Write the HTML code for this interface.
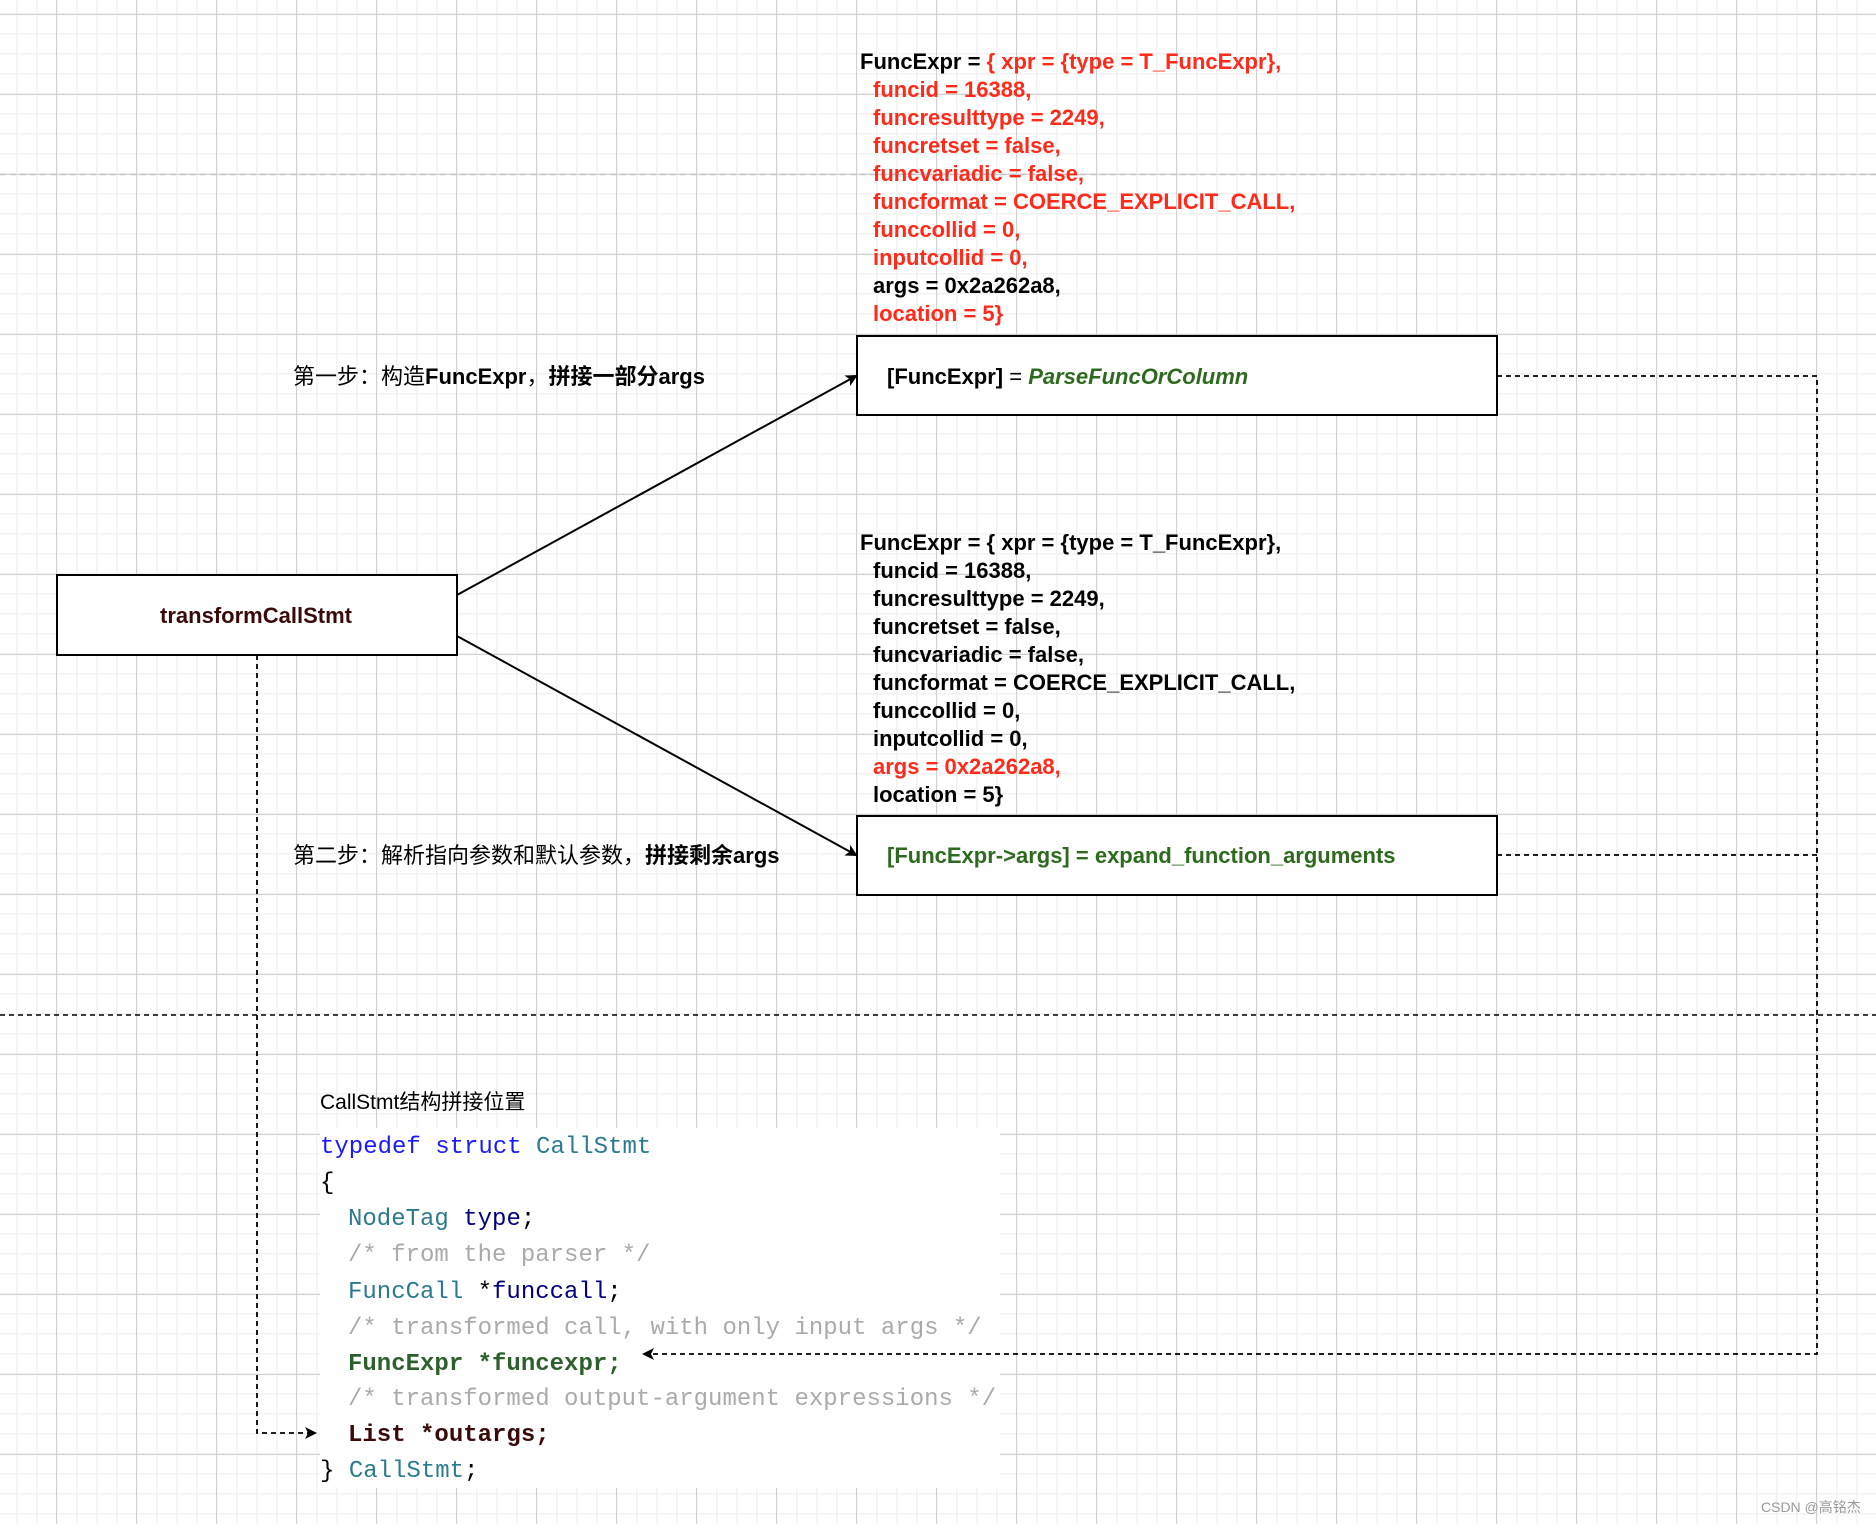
<!DOCTYPE html>
<html><head><meta charset="utf-8"><style>
html,body{margin:0;padding:0}
body{width:1876px;height:1524px;position:relative;overflow:hidden;background-color:#fff;
background-image:
linear-gradient(to right,#d0d0d0 0,#d0d0d0 1.2px,transparent 1.2px),
linear-gradient(to bottom,#d0d0d0 0,#d0d0d0 1.2px,transparent 1.2px),
linear-gradient(to right,#f2f2f2 0,#f2f2f2 1.4px,transparent 1.4px),
linear-gradient(to bottom,#f2f2f2 0,#f2f2f2 1.4px,transparent 1.4px);
background-size:80px 80px,80px 80px,20px 20px,20px 20px;
background-position:56px 0,0 14px,16px 0,0 13px;
font-family:"Liberation Sans","Noto Sans CJK SC",sans-serif}
svg{position:absolute;left:0;top:0}
.t{font-family:"Liberation Sans","Noto Sans CJK SC",sans-serif;font-weight:bold;font-size:22px}
.r{fill:#ff2a1a}
.m{font-family:"Liberation Mono","DejaVu Sans Mono",monospace;font-size:24px}
</style></head><body>
<svg width="1876" height="1524" viewBox="0 0 1876 1524">
<defs>
<marker id="a" markerWidth="12" markerHeight="12" refX="10" refY="6" orient="auto" markerUnits="userSpaceOnUse">
<path d="M0,0 L12,6 L0,12 L3,6 Z" fill="#000"/></marker>
</defs>
<line x1="0" y1="174.5" x2="1876" y2="174.5" stroke="#c4c4c4" stroke-width="1.5" stroke-dasharray="6,4"/>
<line x1="0" y1="1015" x2="1876" y2="1015" stroke="#000" stroke-width="1.5" stroke-dasharray="5,4"/>

<!-- code block bg -->
<rect x="320" y="1128" width="680" height="360" fill="#fff"/>

<!-- boxes -->
<rect x="57" y="575" width="400" height="80" fill="#fff" stroke="#000" stroke-width="2"/>
<rect x="857" y="336" width="640" height="79" fill="#fff" stroke="#000" stroke-width="2"/>
<rect x="857" y="816" width="640" height="79" fill="#fff" stroke="#000" stroke-width="2"/>

<!-- arrows -->
<line x1="457" y1="595" x2="856" y2="376" stroke="#000" stroke-width="2" marker-end="url(#a)"/>
<line x1="457" y1="636" x2="856" y2="855" stroke="#000" stroke-width="2" marker-end="url(#a)"/>

<!-- dashed connectors -->
<polyline points="1497,376 1817,376 1817,1354 644,1354" fill="none" stroke="#000" stroke-width="1.8" stroke-dasharray="5,4" marker-end="url(#a)"/>
<line x1="1497" y1="855" x2="1817" y2="855" stroke="#000" stroke-width="1.8" stroke-dasharray="5,4"/>
<polyline points="257,655 257,1433 315,1433" fill="none" stroke="#000" stroke-width="1.8" stroke-dasharray="5,4" marker-end="url(#a)"/>

<!-- box texts -->
<text x="256" y="623" text-anchor="middle" class="t" fill="#3a0a0a" font-size="23">transformCallStmt</text>
<text x="887" y="384" class="t"><tspan>[FuncExpr]</tspan><tspan font-weight="normal"> = </tspan><tspan fill="#2d6a1f" font-style="italic">ParseFuncOrColumn</tspan></text>
<text x="887" y="863" class="t" fill="#2d6a1f">[FuncExpr-&gt;args] = expand_function_arguments</text>

<!-- labels -->
<text x="293" y="384" class="t"><tspan font-weight="normal">第一步：构造</tspan>FuncExpr<tspan font-weight="normal">，</tspan>拼接一部分args</text>
<text x="293" y="863" class="t"><tspan font-weight="normal">第二步：解析指向参数和默认参数，</tspan>拼接剩余args</text>

<!-- top block -->
<g class="t">
<text x="860" y="69">FuncExpr = <tspan class="r">{ xpr = {type = T_FuncExpr},</tspan></text>
<text x="873" y="97" class="r">funcid = 16388,</text>
<text x="873" y="125" class="r">funcresulttype = 2249,</text>
<text x="873" y="153" class="r">funcretset = false,</text>
<text x="873" y="181" class="r">funcvariadic = false,</text>
<text x="873" y="209" class="r">funcformat = COERCE_EXPLICIT_CALL,</text>
<text x="873" y="237" class="r">funccollid = 0,</text>
<text x="873" y="265" class="r">inputcollid = 0,</text>
<text x="873" y="293">args = 0x2a262a8,</text>
<text x="873" y="321" class="r">location = 5}</text>
</g>
<!-- second block -->
<g class="t">
<text x="860" y="550">FuncExpr = { xpr = {type = T_FuncExpr},</text>
<text x="873" y="578">funcid = 16388,</text>
<text x="873" y="606">funcresulttype = 2249,</text>
<text x="873" y="634">funcretset = false,</text>
<text x="873" y="662">funcvariadic = false,</text>
<text x="873" y="690">funcformat = COERCE_EXPLICIT_CALL,</text>
<text x="873" y="718">funccollid = 0,</text>
<text x="873" y="746">inputcollid = 0,</text>
<text x="873" y="774" class="r">args = 0x2a262a8,</text>
<text x="873" y="802">location = 5}</text>
</g>

<!-- code -->
<text x="320" y="1109" font-size="21" fill="#000" font-family="Liberation Sans, Noto Sans CJK SC, sans-serif">CallStmt结构拼接位置</text>
<g class="m">
<text x="320" y="1153"><tspan fill="#1a1aff">typedef struct</tspan> <tspan fill="#2b7a8f">CallStmt</tspan></text>
<text x="320" y="1189" fill="#000">{</text>
<text x="348" y="1225"><tspan fill="#2b7a8f">NodeTag</tspan> <tspan fill="#000080">type</tspan>;</text>
<text x="348" y="1261" fill="#aaaaaa">/* from the parser */</text>
<text x="348" y="1298"><tspan fill="#2b7a8f">FuncCall</tspan> *<tspan fill="#000080">funccall</tspan>;</text>
<text x="348" y="1334" fill="#aaaaaa">/* transformed call, with only input args */</text>
<text x="348" y="1370" fill="#2d5f2d" font-weight="bold">FuncExpr *funcexpr;</text>
<text x="348" y="1405" fill="#aaaaaa">/* transformed output-argument expressions */</text>
<text x="348" y="1441" fill="#3a0a0a" font-weight="bold">List *outargs;</text>
<text x="320" y="1477">} <tspan fill="#2b7a8f">CallStmt</tspan>;</text>
</g>

<text x="1761" y="1512" font-size="14" fill="#999" font-family="Liberation Sans, Noto Sans CJK SC, sans-serif">CSDN @高铭杰</text>
</svg>
</body></html>
